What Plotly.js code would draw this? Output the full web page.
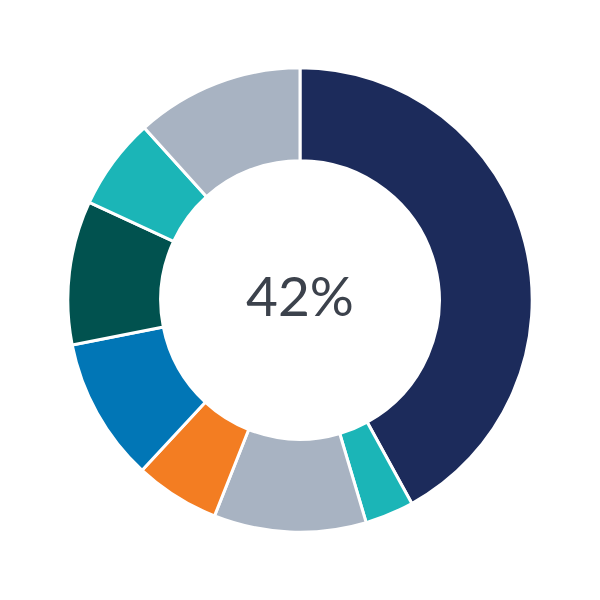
<!DOCTYPE html>
<html>
<head>
<meta charset="utf-8">
<script src="https://cdn.plot.ly/plotly-3.0.1.min.js"></script>
<style>
  html, body { margin: 0; padding: 0; background: #fff; }
  #chart { width: 600px; height: 600px; }
</style>
</head>
<body>
<div id="chart"></div>
<script>
// Slice shares, clockwise from 12 o'clock
const labels = ['A', 'B', 'C', 'D', 'E', 'F', 'G', 'H'];
const shares = [42, 3.4, 10.6, 5.9, 10.0, 10.0, 6.4, 11.7];
const colors = ['#1c2b5b', '#1bb5b7', '#a8b3c2', '#f37d22', '#0176b6', '#01524f', '#1bb5b7', '#a8b3c2'];
const centerText = '42%';

const data = [{
  type: 'pie',
  labels: labels,
  values: shares,
  sort: false,
  direction: 'clockwise',
  rotation: 0,
  hole: 0.6,
  textinfo: 'none',
  hoverinfo: 'skip',
  marker: { colors: colors, line: { color: '#ffffff', width: 3 } },
  domain: { x: [0.113, 0.887], y: [0.113, 0.887] }
}];

const layout = {
  width: 600, height: 600,
  margin: { t: 0, b: 0, l: 0, r: 0 },
  showlegend: false,
  paper_bgcolor: '#ffffff',
  annotations: [{
    text: centerText, x: 0.5, y: 0.5, xref: 'paper', yref: 'paper',
    showarrow: false, xanchor: 'center', yanchor: 'middle', yshift: 5,
    font: { family: 'Lato, sans-serif', size: 55, color: '#3c424c' }
  }]
};

Plotly.newPlot('chart', data, layout, { staticPlot: true });
</script>
</body>
</html>
